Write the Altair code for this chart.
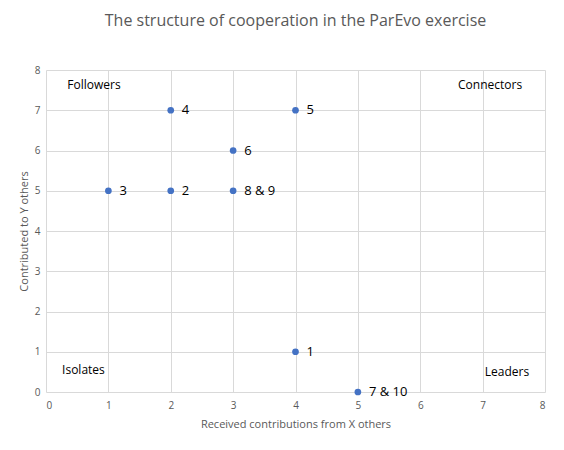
import altair as alt
import pandas as pd

# participants: received contributions (x) vs contributed to (y)
received = [4, 2, 1, 2, 4, 3, 5, 3]
contributed = [1, 5, 5, 7, 7, 6, 0, 5]
labels = ["1", "2", "3", "4", "5", "6", "7 & 10", "8 & 9"]

# quadrant annotations
zone_names = ["Followers", "Connectors", "Isolates", "Leaders"]
zone_x = [0.77, 7.12, 0.6, 7.39]
zone_y = [7.62, 7.62, 0.55, 0.5]

ticks = [0, 1, 2, 3, 4, 5, 6, 7, 8]

pts = pd.DataFrame({"x": received, "y": contributed, "label": labels})
zones = pd.DataFrame({"x": zone_x, "y": zone_y, "name": zone_names})

FONT = "Open Sans"
GREY = "#595959"

x_enc = alt.X("x:Q", title="Received contributions from X others",
              scale=alt.Scale(domain=[0, 8], nice=False),
              axis=alt.Axis(values=ticks, format="d", labelOverlap=False))
y_enc = alt.Y("y:Q", title="Contributed to Y others",
              scale=alt.Scale(domain=[0, 8], nice=False),
              axis=alt.Axis(values=ticks, format="d", labelOverlap=False))

points = alt.Chart(pts).mark_circle(size=45, color="#4472C4", opacity=1).encode(
    x=x_enc, y=y_enc
)

point_text = alt.Chart(pts).mark_text(
    align="left", dx=11, fontSize=13, font=FONT, color="#000000"
).encode(x="x:Q", y="y:Q", text="label:N")

zone_text = alt.Chart(zones).mark_text(
    align="center", fontSize=12, font=FONT, color="#000000"
).encode(x="x:Q", y="y:Q", text="name:N")

chart = alt.layer(points, point_text, zone_text).properties(
    width=499,
    height=322,
    autosize=alt.AutoSizeParams(type="none"),
    padding={"left": 38, "top": 62, "right": 11, "bottom": 50},
    title=alt.TitleParams(
        "The structure of cooperation in the ParEvo exercise",
        fontSize=16, font=FONT, fontWeight="normal", color=GREY,
        anchor="middle", offset=36,
    ),
).configure_view(
    stroke=None
).configure_axis(
    grid=True,
    gridColor="#d9d9d9",
    gridWidth=1,
    domain=False,
    ticks=False,
    labelFont=FONT,
    labelFontSize=10,
    labelColor=GREY,
    titleFont=FONT,
    titleFontSize=11,
    titleFontWeight="normal",
    titleColor=GREY,
).configure_axisX(
    labelPadding=8,
    titlePadding=8,
).configure_axisY(
    labelPadding=6,
    titlePadding=5,
)

chart.save("out.html", embed_options={"renderer": "svg", "actions": False})
